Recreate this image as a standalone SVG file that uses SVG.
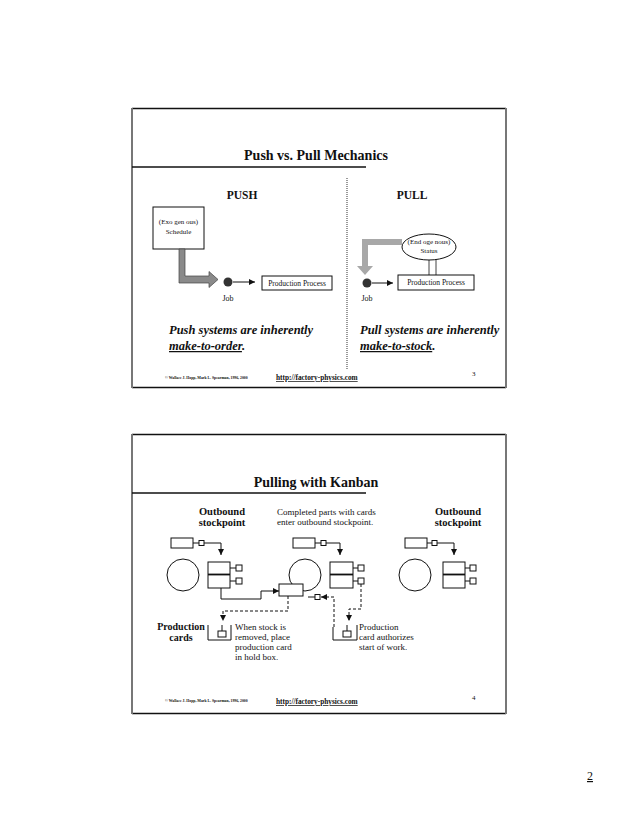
<svg xmlns="http://www.w3.org/2000/svg" width="638" height="826" viewBox="0 0 638 826">
<defs>
<style>
text{font-family:"Liberation Serif","Times New Roman",serif;fill:#111}
.ttl{font-size:14px;font-weight:bold;text-anchor:middle}
.hd{font-size:11.5px;font-weight:bold;text-anchor:middle}
.sm{font-size:7.5px;text-anchor:middle}
.big{font-size:12.5px;font-weight:bold;font-style:italic}
.url{font-size:7.3px;font-weight:bold;text-decoration:underline}
.cp{font-size:3.8px;font-weight:bold}
.pg{font-size:7px}
.lb{font-size:9px}
.bl{font-size:10.5px;font-weight:bold;text-anchor:middle}
.fr{stroke:#111;stroke-width:1.3}
.fs{stroke:#777;stroke-width:2}
.ln{fill:none;stroke:#111;stroke-width:1}
.dl{fill:none;stroke:#111;stroke-width:1;stroke-dasharray:3,2}
.bx{fill:#fff;stroke:#111;stroke-width:1}
</style>
<marker id="ah" viewBox="0 0 10 10" refX="10" refY="5" markerWidth="6" markerHeight="6" markerUnits="userSpaceOnUse" orient="auto"><path d="M0,0 L10,5 L0,10 Z" fill="#111"/></marker>
</defs>

<!-- Slide 1 frame -->
<g id="slide1">
<line class="fr" x1="132" y1="108.5" x2="506" y2="108.5"/>
<line class="fr" x1="132" y1="387.5" x2="506" y2="387.5"/>
<line class="fs" x1="132" y1="108" x2="132" y2="388"/>
<line class="fs" x1="506" y1="108" x2="506" y2="388"/>
<text class="ttl" x="316" y="160">Push vs. Pull Mechanics</text>
<line x1="132" y1="167" x2="366" y2="167" stroke="#111" stroke-width="1.5"/>
<line x1="347" y1="178" x2="347" y2="370" stroke="#555" stroke-width="1.2" stroke-dasharray="1,1"/>
<text class="hd" x="242" y="199">PUSH</text>
<text class="hd" x="412" y="199">PULL</text>
</g>

<g id="schedule">
<rect class="bx" x="153" y="207" width="51" height="42"/>
<text class="sm" x="178.5" y="224" style="font-size:7px">(Exo gen ous)</text>
<text class="sm" x="178.5" y="234" style="font-size:7px">Schedule</text>
</g>
<g id="push-job">
<circle cx="228" cy="282" r="4.5" fill="#333"/>
<text class="sm" x="228" y="301" style="font-size:8px">Job</text>
</g>
<g id="push-process">
<rect class="bx" x="262" y="276" width="70" height="14"/>
<text class="sm" x="297" y="285.5">Production Process</text>
</g>

<g id="status">
<ellipse cx="429" cy="247" rx="27" ry="13" fill="#fff" stroke="#111" stroke-width="1"/>
<text class="sm" x="429" y="244" style="font-size:7px">(End oge nous)</text>
<text class="sm" x="429" y="253" style="font-size:7px">Status</text>
</g>
<g id="pull-job">
<circle cx="367" cy="283" r="4.5" fill="#333"/>
<text class="sm" x="367" y="301" style="font-size:8px">Job</text>
</g>
<g id="pull-process">
<rect class="bx" x="398" y="275" width="76" height="15"/>
<text class="sm" x="436" y="285">Production Process</text>
</g>

<g id="slide1-texts">
<text class="big" x="169" y="334">Push systems are inherently</text>
<text class="big" x="169" y="350"><tspan text-decoration="underline">make-to-order</tspan>.</text>
<text class="big" x="360" y="334">Pull systems are inherently</text>
<text class="big" x="360" y="350"><tspan text-decoration="underline">make-to-stock</tspan>.</text>
<text class="cp" x="165" y="379">© Wallace J. Hopp, Mark L. Spearman, 1996, 2000</text>
<text class="url" x="276" y="380">http://factory-physics.com</text>
<text class="pg" x="472" y="376">3</text>
</g>

<g id="connectors1">
<path d="M179,249 L185,249 L185,276 L209,276 L209,271.5 L218,279.5 L209,287.5 L209,283 L179,283 Z" fill="#8a8a8a" stroke="#444" stroke-width="0.7"/>
<line class="ln" x1="233" y1="282" x2="255" y2="282" marker-end="url(#ah)"/>
<path d="M402,239 L362,239 L362,266 L357,266 L365,275 L373,266 L368,266 L368,245 L402,245 Z" fill="#a8a8a8"/>
<line class="ln" x1="372" y1="283" x2="393" y2="283" marker-end="url(#ah)"/>
<line x1="429" y1="260" x2="429" y2="275" stroke="#111" stroke-width="0.8"/>
<line x1="436" y1="259.5" x2="436" y2="275" stroke="#111" stroke-width="0.8"/>
</g>

<!-- Slide 2 -->
<g id="slide2">
<line class="fr" x1="132" y1="434.5" x2="506" y2="434.5"/>
<line class="fr" x1="132" y1="713.5" x2="506" y2="713.5"/>
<line class="fs" x1="132" y1="434" x2="132" y2="714"/>
<line class="fs" x1="506" y1="434" x2="506" y2="714"/>
<text class="ttl" x="316" y="487">Pulling with Kanban</text>
<line x1="132" y1="493" x2="366" y2="493" stroke="#111" stroke-width="1.5"/>
</g>

<g id="labels2">
<text class="bl" x="222" y="515">Outbound</text>
<text class="bl" x="222" y="526">stockpoint</text>
<text class="bl" x="458" y="515">Outbound</text>
<text class="bl" x="458" y="526">stockpoint</text>
<text class="lb" x="277" y="515">Completed parts with cards</text>
<text class="lb" x="277" y="525">enter outbound stockpoint.</text>
<text class="bl" x="181" y="630" style="font-size:10px">Production</text>
<text class="bl" x="181" y="641" style="font-size:10px">cards</text>
<text class="lb" x="235" y="630">When stock is</text>
<text class="lb" x="235" y="640">removed, place</text>
<text class="lb" x="235" y="650">production card</text>
<text class="lb" x="235" y="660">in hold box.</text>
<text class="lb" x="359" y="630">Production</text>
<text class="lb" x="359" y="640">card authorizes</text>
<text class="lb" x="359" y="650">start of work.</text>
<text class="cp" x="165" y="702">© Wallace J. Hopp, Mark L. Spearman, 1996, 2000</text>
<text class="url" x="276" y="704">http://factory-physics.com</text>
<text class="pg" x="472" y="700">4</text>
</g>

<!-- Station 1 -->
<g id="card1">
<rect class="bx" x="171" y="538" width="22" height="10"/>
<line class="ln" x1="193" y1="543" x2="199" y2="543"/>
<rect class="bx" x="199" y="540.5" width="5" height="5"/>
</g>
<g id="process1"><circle cx="183" cy="575" r="16" fill="none" stroke="#111" stroke-width="1"/></g>
<g id="stock1">
<rect class="bx" x="208" y="562" width="22" height="26"/>
<line x1="208" y1="574.5" x2="230" y2="574.5" stroke="#111" stroke-width="1.8"/>
<line class="ln" x1="230" y1="568" x2="236" y2="568"/>
<rect class="bx" x="236" y="565" width="6" height="6"/>
<line class="ln" x1="230" y1="581" x2="236" y2="581"/>
<rect class="bx" x="236" y="578" width="6" height="6"/>
</g>

<!-- Station 2 -->
<g id="card2">
<rect class="bx" x="293" y="538" width="22" height="10"/>
<line class="ln" x1="315" y1="543" x2="321" y2="543"/>
<rect class="bx" x="321" y="540.5" width="5" height="5"/>
</g>
<g id="process2"><circle cx="305" cy="575" r="16" fill="none" stroke="#111" stroke-width="1"/></g>
<g id="stock2">
<rect class="bx" x="330" y="562" width="23" height="26"/>
<line x1="330" y1="574.5" x2="353" y2="574.5" stroke="#111" stroke-width="1.8"/>
<line class="ln" x1="353" y1="568" x2="358" y2="568"/>
<rect class="bx" x="358" y="565" width="6" height="6"/>
<line class="ln" x1="353" y1="581" x2="358" y2="581"/>
<rect class="bx" x="358" y="578" width="6" height="6"/>
</g>
<g id="wip-card">
<rect class="bx" x="279" y="584" width="24" height="12"/>
</g>
<g id="free-card">
<line class="ln" x1="308" y1="597" x2="315" y2="597"/>
<rect class="bx" x="315" y="594.5" width="5" height="5"/>
</g>

<!-- Station 3 -->
<g id="card3">
<rect class="bx" x="405" y="538" width="22" height="10"/>
<line class="ln" x1="427" y1="543" x2="432" y2="543"/>
<rect class="bx" x="432" y="540.5" width="5" height="5"/>
</g>
<g id="process3"><circle cx="415" cy="575" r="16" fill="none" stroke="#111" stroke-width="1"/></g>
<g id="stock3">
<rect class="bx" x="443" y="562" width="22" height="26"/>
<line x1="443" y1="574.5" x2="465" y2="574.5" stroke="#111" stroke-width="1.8"/>
<line class="ln" x1="465" y1="568" x2="470" y2="568"/>
<rect class="bx" x="470" y="565" width="6" height="6"/>
<line class="ln" x1="465" y1="581" x2="470" y2="581"/>
<rect class="bx" x="470" y="578" width="6" height="6"/>
</g>

<!-- Hold boxes -->
<g id="hold1">
<path class="ln" d="M208,625 L208,640 L231,640 L231,625"/>
<rect class="bx" x="218" y="631" width="8" height="6"/>
<line class="ln" x1="222" y1="625" x2="222" y2="631"/>
</g>
<g id="hold2">
<path class="ln" d="M333,627 L333,640 L357,640 L357,625"/>
<rect class="bx" x="343" y="631" width="8" height="6"/>
<line class="ln" x1="347" y1="625" x2="347" y2="631"/>
</g>

<g id="connectors2">
<polyline class="ln" points="204,543 221,543 221,555" marker-end="url(#ah)"/>
<polyline class="ln" points="326,543 340,543 340,555" marker-end="url(#ah)"/>
<polyline class="ln" points="437,543 454,543 454,555" marker-end="url(#ah)"/>
<polyline class="ln" points="221,588 221,599 261,599 261,591 279,591" marker-end="url(#ah)"/>
<polyline class="dl" points="288,596 288,611 223,611 223,621" marker-end="url(#ah)"/>
<polyline class="dl" points="361,584 361,609 349,609 349,621" marker-end="url(#ah)"/>
<polyline class="dl" points="334,627 334,597 321,597" marker-end="url(#ah)"/>
</g>

<g id="page-number">
<text x="590" y="780" style="font-size:12px;text-anchor:middle;text-decoration:underline">2</text>
</g>
</svg>
